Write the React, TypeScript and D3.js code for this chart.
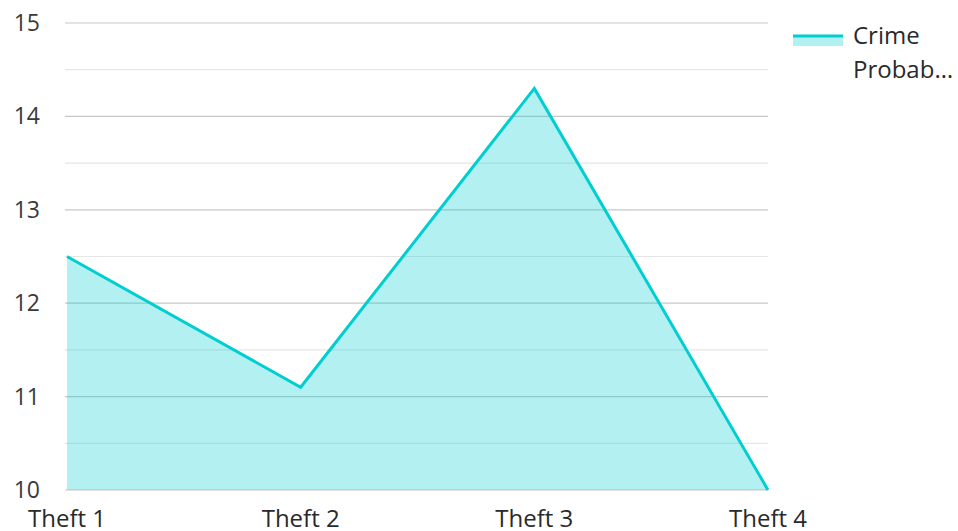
import React from "react";
import * as d3 from "d3";

const categories = ["Theft 1", "Theft 2", "Theft 3", "Theft 4"];
const values = [12.5, 11.1, 14.3, 10.0];
const yTicks = [10, 11, 12, 13, 14, 15];
const minorTicks = [10.5, 11.5, 12.5, 13.5, 14.5];
const seriesName = ["Crime", "Probab…"];

const W = 958, H = 531;
const left = 67, right = 768, top = 23, bottom = 490;
const color = "#00CED1";
const font = "'Open Sans', sans-serif";

export default function App() {
  const x = d3.scalePoint<string>().domain(categories).range([left, right]);
  const y = d3.scaleLinear().domain([10, 15]).range([bottom, top]);
  const pts = categories.map((c, i) => [x(c)!, y(values[i])] as [number, number]);
  const area = d3.area<[number, number]>().x(d => d[0]).y0(y(10)).y1(d => d[1])(pts)!;
  const line = d3.line<[number, number]>().x(d => d[0]).y(d => d[1])(pts)!;
  return (
    <svg width={W} height={H} style={{ position: "absolute", left: 0, top: 0 }}>
      <rect width={W} height={H} fill="#fff" />
      {minorTicks.map(t => (
        <line key={"m" + t} x1={left - 2} x2={right} y1={y(t)} y2={y(t)} stroke="#e6e6e6" strokeWidth={1.2} />
      ))}
      {yTicks.map(t => (
        <g key={t}>
          <line x1={left - 2} x2={right} y1={y(t)} y2={y(t)} stroke="#c8c8c8" strokeWidth={1.2} />
          <text x={40} y={y(t)} dy="0.35em" textAnchor="end" fontFamily={font} fontSize={23} fill="#3a3a3a">{t}</text>
        </g>
      ))}
      <path d={area} fill={color} fillOpacity={0.3} />
      <path d={line} fill="none" stroke={color} strokeWidth={3} strokeLinejoin="miter" />
      {categories.map(c => (
        <text key={c} x={x(c)} y={527} textAnchor="middle" fontFamily={font} fontSize={24} fill="#2a2a2a">{c}</text>
      ))}
      <rect x={793} y={35} width={50} height={11} fill={color} fillOpacity={0.3} />
      <line x1={793} x2={843} y1={36} y2={36} stroke={color} strokeWidth={3} />
      {seriesName.map((s, i) => (
        <text key={s} x={853} y={36 + i * 34} dy="0.35em" fontFamily={font} fontSize={24} fill="#2a2a2a">{s}</text>
      ))}
    </svg>
  );
}
